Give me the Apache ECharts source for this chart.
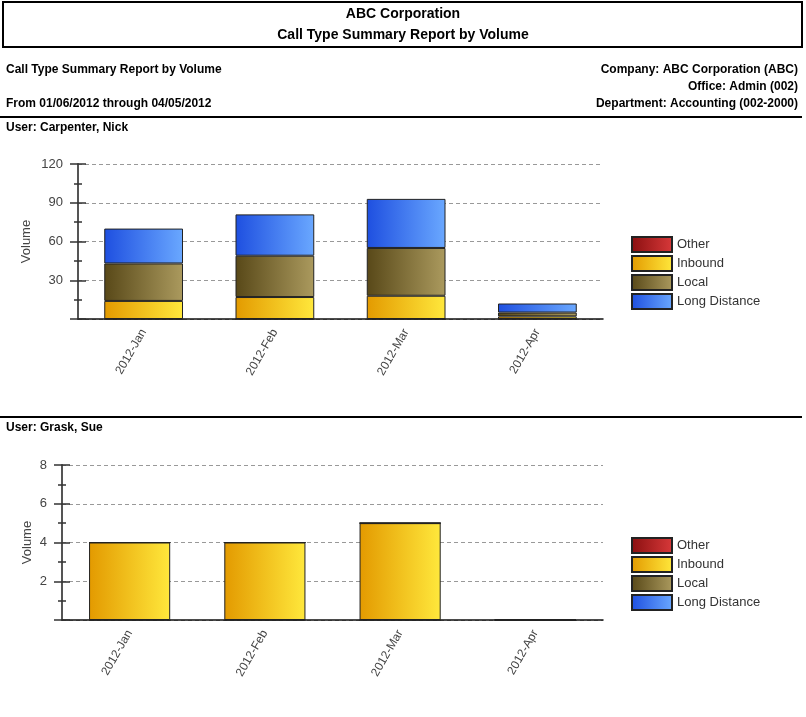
<!DOCTYPE html>
<html>
<head>
<meta charset="utf-8">
<script src="https://cdn.jsdelivr.net/npm/echarts@6/dist/echarts.min.js"></script>
<style>
  html, body { margin: 0; padding: 0; background: #fff; }
  #main { width: 806px; height: 717px; }
</style>
</head>
<body>
<div id="main"></div>
<script>
// data
const months = ["2012-Jan", "2012-Feb", "2012-Mar", "2012-Apr"];
const seriesNames = ["Other", "Inbound", "Local", "Long Distance"];

// User: Carpenter, Nick
const nickOther = [0, 0, 0, 0];
const nickInbound = [14, 17, 18, 2];
const nickLocal = [29, 32, 37, 3];
const nickLong = [27, 32, 38, 7];

// User: Grask, Sue
const sueOther = [0, 0, 0, 0];
const sueInbound = [4, 4, 5, 0];
const sueLocal = [0, 0, 0, 0];
const sueLong = [0, 0, 0, 0];

const font = "Liberation Sans, Arial, sans-serif";

const grad = (a, b) => new echarts.graphic.LinearGradient(0, 0, 1, 0, [
  { offset: 0, color: a },
  { offset: 1, color: b },
]);
const fills = {
  "Other": grad("#8a0f10", "#d8393a"),
  "Inbound": grad("#e39a00", "#ffe83c"),
  "Local": grad("#584818", "#ab9a5e"),
  "Long Distance": grad("#1e4fe0", "#6aa8ff"),
};

function bars(grid, yIdx, lists) {
  return seriesNames.map((name, i) => ({
    name: name,
    type: "bar",
    stack: "g" + grid,
    xAxisIndex: grid,
    yAxisIndex: yIdx,
    barWidth: "60%",
    data: lists[i],
    itemStyle: { color: fills[name], borderColor: "#222", borderWidth: 1 },
    emphasis: { disabled: true },
  }));
}

function mainY(grid, max, step, gap) {
  return {
    type: "value", gridIndex: grid, position: "left", min: 0, max: max, interval: step,
    name: "Volume", nameLocation: "middle", nameRotate: 90, nameGap: gap, nameMoveOverlap: false,
    nameTextStyle: { color: "#444", fontSize: 13, fontFamily: font },
    axisLine: { show: true, lineStyle: { color: "#555", width: 2 } },
    axisTick: { show: true, length: 8, lineStyle: { color: "#333", width: 1.5 } },
    minorTick: { show: true, splitNumber: 2, length: 4, lineStyle: { color: "#333", width: 1.5 } },
    axisLabel: { color: "#444", fontSize: 13, fontFamily: font, margin: 15,
      formatter: v => (v === 0 ? "" : v) },
    splitLine: { show: true, lineStyle: { color: "#999", type: [4, 3], width: 1 } },
  };
}
// same scale on the same side, only draws the part of the ticks inside the plot
function auxY(grid, max, step) {
  return {
    type: "value", gridIndex: grid, position: "left", offset: 0, min: 0, max: max, interval: step,
    axisLine: { show: false },
    axisTick: { show: true, inside: true, length: 8, lineStyle: { color: "#333", width: 1.5 } },
    minorTick: { show: true, splitNumber: 2, length: 4, lineStyle: { color: "#333", width: 1.5 } },
    axisLabel: { show: false },
    splitLine: { show: false },
  };
}
function catX(grid) {
  return {
    type: "category", gridIndex: grid, data: months,
    axisLine: { lineStyle: { color: "#111", width: 1.5 } },
    axisTick: { alignWithLabel: true, length: 8, lineStyle: { color: "#333", width: 1.5 } },
    axisLabel: { rotate: 60, color: "#444", fontSize: 12, fontFamily: font, margin: 11 },
  };
}
function legendAt(top) {
  return {
    orient: "vertical", left: 626, top: top, itemWidth: 40, itemHeight: 15, itemGap: 2,
    icon: "rect", data: seriesNames, selectedMode: false,
    textStyle: { color: "#333", fontSize: 13, fontFamily: font },
  };
}

const hdr = (x, y, text, opts) => ({
  type: "text", x: x, y: y,
  style: Object.assign({ text: text, fill: "#000", font: "bold 12px " + font, textVerticalAlign: "middle" }, opts || {}),
});

const chart = echarts.init(document.getElementById("main"));
chart.setOption({
  animation: false,
  grid: [
    { left: 78, right: 203, top: 164, height: 155 },
    { left: 62, right: 203, top: 465, height: 155 },
  ],
  xAxis: [catX(0), catX(1)],
  yAxis: [mainY(0, 120, 30, 45), auxY(0, 120, 30), mainY(1, 8, 2, 28), auxY(1, 8, 2)],
  legend: [legendAt(231), legendAt(532)],
  series: bars(0, 0, [nickOther, nickInbound, nickLocal, nickLong])
    .concat(bars(1, 2, [sueOther, sueInbound, sueLocal, sueLong])),
  graphic: [
    { type: "rect", shape: { x: 3, y: 2, width: 799, height: 45 },
      style: { fill: "none", stroke: "#000", lineWidth: 2 } },
    hdr(403, 14, "ABC Corporation", { font: "bold 14px " + font, textAlign: "center" }),
    hdr(403, 35, "Call Type Summary Report by Volume", { font: "bold 14px " + font, textAlign: "center" }),
    hdr(6, 70, "Call Type Summary Report by Volume"),
    hdr(6, 104, "From 01/06/2012 through 04/05/2012"),
    hdr(798, 70, "Company: ABC Corporation (ABC)", { textAlign: "right" }),
    hdr(798, 87, "Office: Admin (002)", { textAlign: "right" }),
    hdr(798, 104, "Department: Accounting (002-2000)", { textAlign: "right" }),
    { type: "line", shape: { x1: 0, y1: 117, x2: 802, y2: 117 }, style: { stroke: "#000", lineWidth: 2 } },
    hdr(6, 128, "User: Carpenter, Nick"),
    { type: "line", shape: { x1: 0, y1: 417, x2: 802, y2: 417 }, style: { stroke: "#000", lineWidth: 2 } },
    hdr(6, 428, "User: Grask, Sue"),
  ],
});
</script>
</body>
</html>
